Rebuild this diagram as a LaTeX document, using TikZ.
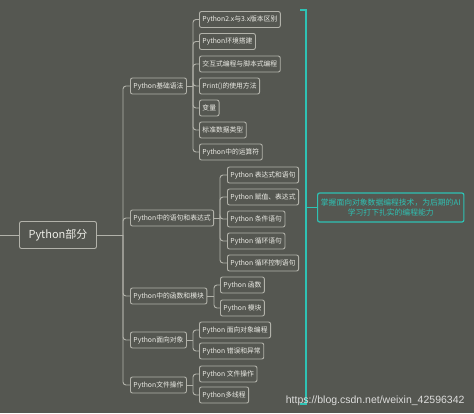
\documentclass[tikz,border=0pt]{standalone}
\usepackage{fontspec}
\setmainfont{Noto Sans CJK SC}
\newfontfamily\urlfont{Liberation Sans}
\usepackage{xcolor}
\usepackage{tikz}
\usetikzlibrary{positioning}

\definecolor{mapbg}{HTML}{555751}
\definecolor{mapline}{HTML}{B2B2AA}
\definecolor{maptext}{HTML}{ECECE6}
\definecolor{mapcyan}{HTML}{2EC2B4}

\tikzset{
  topic/.style={draw=mapline,line width=0.9pt,rounded corners=2pt,fill=mapbg,
    text=maptext,font=\fontsize{6.8}{8}\selectfont,inner xsep=3pt,
    minimum height=16pt,anchor=west},
  rootbox/.style={topic,font=\fontsize{11}{12}\selectfont,minimum width=77pt,
    minimum height=27pt,anchor=center},
  conn/.style={draw=mapline,line width=0.9pt,rounded corners=3pt},
  brace/.style={draw=mapcyan,line width=1.2pt}
}

\begin{document}
\begin{tikzpicture}[x=1pt,y=-1pt]

% background
\fill[mapbg] (0,0) rectangle (474,413);
\useasboundingbox (0,0) rectangle (474,413);

% root
\node[rootbox] (root) at (58,235) {Python部分};
\coordinate (inlet) at (0,235);
\coordinate (trunk) at (123,235);
\draw[conn] (inlet) -- (root.west);
\draw[conn] (root.east) -- (trunk);

% first level
\node[topic] (basics) at (130,86) {Python基础语法};
\node[topic] (stmt) at (130,218) {Python中的语句和表达式};
\node[topic] (func) at (130,296) {Python中的函数和模块};
\node[topic] (oop) at (130,340) {Python面向对象};
\node[topic] (fileop) at (130,385) {Python文件操作};

\foreach \n in {basics,stmt,func,oop,fileop}
  \draw[conn] (trunk) |- (\n.west);

% basics
\node[topic] (b1) at (199,19.5) {Python2.x与3.x版本区别};
\node[topic] (b2) at (199,41.5) {Python环境搭建};
\node[topic] (b3) at (199,64) {交互式编程与脚本式编程};
\node[topic] (b4) at (199,86) {Print()的使用方法};
\node[topic] (b5) at (199,108) {变量};
\node[topic] (b6) at (199,130) {标准数据类型};
\node[topic] (b7) at (199,152) {Python中的运算符};
\coordinate (bfork) at (193,86);
\draw[conn] (basics.east) -- (bfork);
\foreach \n in {b1,b2,b3,b4,b5,b6,b7}
  \draw[conn] (bfork) |- (\n.west);

% statements
\node[topic] (s1) at (227,175) {Python 表达式和语句};
\node[topic] (s2) at (227,197) {Python 赋值、表达式};
\node[topic] (s3) at (227,219) {Python 条件语句};
\node[topic] (s4) at (227,241) {Python 循环语句};
\node[topic] (s5) at (227,263) {Python 循环控制语句};
\coordinate (sfork) at (220,218);
\draw[conn] (stmt.east) -- (sfork);
\foreach \n in {s1,s2,s3,s4,s5}
  \draw[conn] (sfork) |- (\n.west);

% functions
\node[topic] (f1) at (220,285) {Python 函数};
\node[topic] (f2) at (220,308) {Python 模块};
\coordinate (ffork) at (214,296);
\draw[conn] (func.east) -- (ffork);
\foreach \n in {f1,f2}
  \draw[conn] (ffork) |- (\n.west);

% objects
\node[topic] (o1) at (199,330) {Python 面向对象编程};
\node[topic] (o2) at (199,351) {Python 错误和异常};
\coordinate (ofork) at (193,340);
\draw[conn] (oop.east) -- (ofork);
\foreach \n in {o1,o2}
  \draw[conn] (ofork) |- (\n.west);

% files
\node[topic] (p1) at (199,374) {Python 文件操作};
\node[topic] (p2) at (199,395) {Python多线程};
\coordinate (pfork) at (193,385);
\draw[conn] (fileop.east) -- (pfork);
\foreach \n in {p1,p2}
  \draw[conn] (pfork) |- (\n.west);

% summary bracket
\node[draw=mapcyan,line width=1.2pt,rounded corners=2pt,fill=mapbg,text=mapcyan,
  font=\fontsize{7.8}{10}\selectfont,align=center,minimum width=146pt,
  minimum height=29pt,anchor=west] (summary) at (317,207.5)
  {掌握面向对象数据编程技术，为后期的AI\\学习打下扎实的编程能力};
\coordinate (btop) at (300,10);
\coordinate (bbot) at (300,404);
\coordinate (bmid) at (306,207.5);
\draw[brace] (btop) -- ++(6,0) -- ++(0,394) -- (bbot);
\draw[brace] (bmid) -- (summary.west);

% watermark
\node[anchor=east,text=white!80!mapbg,font=\urlfont\fontsize{10.5}{12}\selectfont]
  (mark) at (468,401) {https://blog.csdn.net/weixin\_42596342};

\end{tikzpicture}
\end{document}
